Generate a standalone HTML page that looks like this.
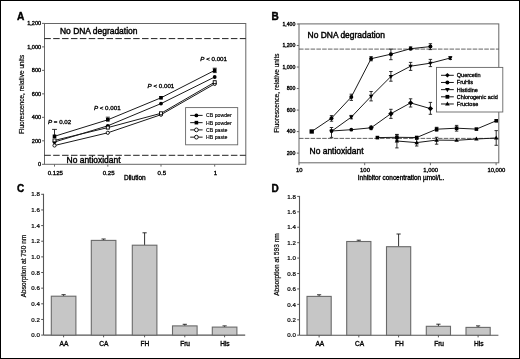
<!DOCTYPE html>
<html><head><meta charset="utf-8"><title>Figure</title>
<style>
html,body{margin:0;padding:0;background:#fff;}
body{width:520px;height:359px;overflow:hidden;position:relative;}
.frame{position:absolute;left:0;top:0;width:518px;height:357px;border:1px solid #000;pointer-events:none;}
</style></head><body>
<svg width="520" height="359" viewBox="0 0 520 359" style="display:block;filter:blur(0.35px)">
<g font-family='"Liberation Sans", Arial, sans-serif' fill="#000" stroke-linecap="butt">
<rect x="44.5" y="23.5" width="201.3" height="140.8" fill="none" stroke="#666" stroke-width="1"/>
<line x1="42.00" y1="164.30" x2="44.50" y2="164.30" stroke="#666" stroke-width="1" />
<text x="41.20" y="166.30" font-size="5.6" text-anchor="end" font-weight="normal" font-style="normal" stroke="#000" stroke-width="0.34" >0</text>
<line x1="42.00" y1="140.82" x2="44.50" y2="140.82" stroke="#666" stroke-width="1" />
<text x="41.20" y="142.82" font-size="5.6" text-anchor="end" font-weight="normal" font-style="normal" stroke="#000" stroke-width="0.34" >200</text>
<line x1="42.00" y1="117.33" x2="44.50" y2="117.33" stroke="#666" stroke-width="1" />
<text x="41.20" y="119.33" font-size="5.6" text-anchor="end" font-weight="normal" font-style="normal" stroke="#000" stroke-width="0.34" >400</text>
<line x1="42.00" y1="93.85" x2="44.50" y2="93.85" stroke="#666" stroke-width="1" />
<text x="41.20" y="95.85" font-size="5.6" text-anchor="end" font-weight="normal" font-style="normal" stroke="#000" stroke-width="0.34" >600</text>
<line x1="42.00" y1="70.37" x2="44.50" y2="70.37" stroke="#666" stroke-width="1" />
<text x="41.20" y="72.37" font-size="5.6" text-anchor="end" font-weight="normal" font-style="normal" stroke="#000" stroke-width="0.34" >800</text>
<line x1="42.00" y1="46.88" x2="44.50" y2="46.88" stroke="#666" stroke-width="1" />
<text x="41.20" y="48.88" font-size="5.6" text-anchor="end" font-weight="normal" font-style="normal" stroke="#000" stroke-width="0.34" >1,000</text>
<line x1="42.00" y1="23.40" x2="44.50" y2="23.40" stroke="#666" stroke-width="1" />
<text x="41.20" y="25.40" font-size="5.6" text-anchor="end" font-weight="normal" font-style="normal" stroke="#000" stroke-width="0.34" >1,200</text>
<line x1="54.50" y1="164.30" x2="54.50" y2="166.60" stroke="#666" stroke-width="1" />
<text x="55.30" y="174.60" font-size="6.1" text-anchor="middle" font-weight="normal" font-style="normal" stroke="#000" stroke-width="0.34" >0.125</text>
<line x1="107.80" y1="164.30" x2="107.80" y2="166.60" stroke="#666" stroke-width="1" />
<text x="108.60" y="174.60" font-size="6.1" text-anchor="middle" font-weight="normal" font-style="normal" stroke="#000" stroke-width="0.34" >0.25</text>
<line x1="161.00" y1="164.30" x2="161.00" y2="166.60" stroke="#666" stroke-width="1" />
<text x="161.80" y="174.60" font-size="6.1" text-anchor="middle" font-weight="normal" font-style="normal" stroke="#000" stroke-width="0.34" >0.5</text>
<line x1="214.70" y1="164.30" x2="214.70" y2="166.60" stroke="#666" stroke-width="1" />
<text x="215.50" y="174.60" font-size="6.1" text-anchor="middle" font-weight="normal" font-style="normal" stroke="#000" stroke-width="0.34" >1</text>
<text x="134.80" y="180.20" font-size="6.5" text-anchor="middle" font-weight="normal" font-style="normal" stroke="#000" stroke-width="0.34" >Dilution</text>
<text transform="translate(23.7,94.4) rotate(-90)" font-size="6.5" stroke="#000" stroke-width="0.2" text-anchor="middle">Fluorescence, relative units</text>
<line x1="44.30" y1="38.60" x2="245.80" y2="38.60" stroke="#222" stroke-width="1" stroke-dasharray="6.5 2.386"/>
<line x1="44.30" y1="155.30" x2="245.80" y2="155.30" stroke="#222" stroke-width="1" stroke-dasharray="6.5 2.386"/>
<text x="60.00" y="33.80" font-size="8.45" text-anchor="start" font-weight="normal" font-style="normal"  stroke="#000" stroke-width="0.42">No DNA degradation</text>
<text x="66.60" y="162.90" font-size="8.45" text-anchor="start" font-weight="normal" font-style="normal"  stroke="#000" stroke-width="0.42">No antioxidant</text>
<text x="48.00" y="124.00" font-size="6.2" stroke="#000" stroke-width="0.34"><tspan font-style="italic">P</tspan> = 0.02</text>
<text x="93.90" y="110.10" font-size="6.2" stroke="#000" stroke-width="0.34"><tspan font-style="italic">P</tspan> &lt; 0.001</text>
<text x="147.60" y="87.50" font-size="6.2" stroke="#000" stroke-width="0.34"><tspan font-style="italic">P</tspan> &lt; 0.001</text>
<text x="200.30" y="60.80" font-size="6.2" stroke="#000" stroke-width="0.34"><tspan font-style="italic">P</tspan> &lt; 0.001</text>
<line x1="54.50" y1="136.30" x2="54.50" y2="129.40" stroke="#1a1a1a" stroke-width="0.9" />
<line x1="52.10" y1="129.40" x2="56.90" y2="129.40" stroke="#1a1a1a" stroke-width="0.9" />
<line x1="107.80" y1="119.80" x2="107.80" y2="117.20" stroke="#1a1a1a" stroke-width="0.9" />
<line x1="105.80" y1="117.20" x2="109.80" y2="117.20" stroke="#1a1a1a" stroke-width="0.9" />
<line x1="161.00" y1="97.80" x2="161.00" y2="96.60" stroke="#1a1a1a" stroke-width="0.9" />
<line x1="159.40" y1="96.60" x2="162.60" y2="96.60" stroke="#1a1a1a" stroke-width="0.9" />
<line x1="214.70" y1="68.20" x2="214.70" y2="72.60" stroke="#1a1a1a" stroke-width="0.9" />
<line x1="212.70" y1="68.20" x2="216.70" y2="68.20" stroke="#1a1a1a" stroke-width="0.9" />
<line x1="212.70" y1="72.60" x2="216.70" y2="72.60" stroke="#1a1a1a" stroke-width="0.9" />
<polyline points="54.50,145.50 107.80,132.80 161.00,114.70 214.70,83.90" fill="none" stroke="#1a1a1a" stroke-width="1.0" stroke-linejoin="round"/>
<polyline points="54.50,140.40 107.80,127.60 161.00,113.30 214.70,82.20" fill="none" stroke="#1a1a1a" stroke-width="1.0" stroke-linejoin="round"/>
<polyline points="54.50,142.00 107.80,125.80 161.00,103.60 214.70,77.00" fill="none" stroke="#1a1a1a" stroke-width="1.0" stroke-linejoin="round"/>
<polyline points="54.50,136.30 107.80,119.80 161.00,97.80 214.70,70.40" fill="none" stroke="#1a1a1a" stroke-width="1.0" stroke-linejoin="round"/>
<circle cx="54.50" cy="142.00" r="1.90" fill="#000"/>
<circle cx="107.80" cy="125.80" r="1.90" fill="#000"/>
<circle cx="161.00" cy="103.60" r="1.90" fill="#000"/>
<circle cx="214.70" cy="77.00" r="1.90" fill="#000"/>
<rect x="52.70" y="134.50" width="3.60" height="3.60" fill="#000"/>
<rect x="106.00" y="118.00" width="3.60" height="3.60" fill="#000"/>
<rect x="159.20" y="96.00" width="3.60" height="3.60" fill="#000"/>
<rect x="212.90" y="68.60" width="3.60" height="3.60" fill="#000"/>
<circle cx="54.50" cy="145.50" r="1.60" fill="#fff" stroke="#000" stroke-width="0.9"/>
<circle cx="107.80" cy="132.80" r="1.60" fill="#fff" stroke="#000" stroke-width="0.9"/>
<circle cx="161.00" cy="114.70" r="1.60" fill="#fff" stroke="#000" stroke-width="0.9"/>
<circle cx="214.70" cy="83.90" r="1.60" fill="#fff" stroke="#000" stroke-width="0.9"/>
<rect x="53.00" y="138.90" width="3.00" height="3.00" fill="#fff" stroke="#000" stroke-width="0.9"/>
<rect x="106.30" y="126.10" width="3.00" height="3.00" fill="#fff" stroke="#000" stroke-width="0.9"/>
<rect x="159.50" y="111.80" width="3.00" height="3.00" fill="#fff" stroke="#000" stroke-width="0.9"/>
<rect x="213.20" y="80.70" width="3.00" height="3.00" fill="#fff" stroke="#000" stroke-width="0.9"/>
<rect x="185.6" y="107.6" width="52.1" height="37.2" fill="#fff" stroke="#666" stroke-width="0.9"/>
<line x1="190.20" y1="115.40" x2="202.60" y2="115.40" stroke="#1a1a1a" stroke-width="1.0" />
<circle cx="196.40" cy="115.40" r="1.90" fill="#000"/>
<text x="206.00" y="117.25" font-size="5.2" text-anchor="start" font-weight="normal" font-style="normal"  stroke="#000" stroke-width="0.15">CB powder</text>
<line x1="190.20" y1="122.65" x2="202.60" y2="122.65" stroke="#1a1a1a" stroke-width="1.0" />
<rect x="194.60" y="120.85" width="3.60" height="3.60" fill="#000"/>
<text x="206.00" y="124.50" font-size="5.2" text-anchor="start" font-weight="normal" font-style="normal"  stroke="#000" stroke-width="0.15">HB powder</text>
<line x1="190.20" y1="129.90" x2="202.60" y2="129.90" stroke="#1a1a1a" stroke-width="1.0" />
<circle cx="196.40" cy="129.90" r="1.89" fill="#fff" stroke="#000" stroke-width="0.9"/>
<text x="206.00" y="131.75" font-size="5.2" text-anchor="start" font-weight="normal" font-style="normal"  stroke="#000" stroke-width="0.15">CB paste</text>
<line x1="190.20" y1="137.15" x2="202.60" y2="137.15" stroke="#1a1a1a" stroke-width="1.0" />
<circle cx="196.40" cy="137.15" r="1.89" fill="#fff" stroke="#000" stroke-width="0.9"/>
<text x="206.00" y="139.00" font-size="5.2" text-anchor="start" font-weight="normal" font-style="normal"  stroke="#000" stroke-width="0.15">HB paste</text>
<rect x="299.0" y="23.9" width="199.8" height="138.9" fill="none" stroke="#666" stroke-width="1"/>
<line x1="296.80" y1="153.10" x2="299.00" y2="153.10" stroke="#666" stroke-width="1" />
<text x="295.40" y="155.00" font-size="5.2" text-anchor="end" font-weight="normal" font-style="normal" stroke="#000" stroke-width="0.34" >200</text>
<line x1="296.80" y1="131.58" x2="299.00" y2="131.58" stroke="#666" stroke-width="1" />
<text x="295.40" y="133.48" font-size="5.2" text-anchor="end" font-weight="normal" font-style="normal" stroke="#000" stroke-width="0.34" >400</text>
<line x1="296.80" y1="110.07" x2="299.00" y2="110.07" stroke="#666" stroke-width="1" />
<text x="295.40" y="111.97" font-size="5.2" text-anchor="end" font-weight="normal" font-style="normal" stroke="#000" stroke-width="0.34" >600</text>
<line x1="296.80" y1="88.55" x2="299.00" y2="88.55" stroke="#666" stroke-width="1" />
<text x="295.40" y="90.45" font-size="5.2" text-anchor="end" font-weight="normal" font-style="normal" stroke="#000" stroke-width="0.34" >800</text>
<line x1="296.80" y1="67.03" x2="299.00" y2="67.03" stroke="#666" stroke-width="1" />
<text x="295.40" y="68.93" font-size="5.2" text-anchor="end" font-weight="normal" font-style="normal" stroke="#000" stroke-width="0.34" >1,000</text>
<line x1="296.80" y1="45.52" x2="299.00" y2="45.52" stroke="#666" stroke-width="1" />
<text x="295.40" y="47.42" font-size="5.2" text-anchor="end" font-weight="normal" font-style="normal" stroke="#000" stroke-width="0.34" >1,200</text>
<line x1="296.80" y1="24.00" x2="299.00" y2="24.00" stroke="#666" stroke-width="1" />
<text x="295.40" y="25.90" font-size="5.2" text-anchor="end" font-weight="normal" font-style="normal" stroke="#000" stroke-width="0.34" >1,400</text>
<line x1="299.00" y1="162.80" x2="299.00" y2="165.20" stroke="#666" stroke-width="1" />
<text x="299.30" y="171.90" font-size="5.9" text-anchor="middle" font-weight="normal" font-style="normal" stroke="#000" stroke-width="0.34" >10</text>
<line x1="364.70" y1="162.80" x2="364.70" y2="165.20" stroke="#666" stroke-width="1" />
<text x="365.00" y="171.90" font-size="5.9" text-anchor="middle" font-weight="normal" font-style="normal" stroke="#000" stroke-width="0.34" >100</text>
<line x1="430.40" y1="162.80" x2="430.40" y2="165.20" stroke="#666" stroke-width="1" />
<text x="430.70" y="171.90" font-size="5.9" text-anchor="middle" font-weight="normal" font-style="normal" stroke="#000" stroke-width="0.34" >1,000</text>
<line x1="496.10" y1="162.80" x2="496.10" y2="165.20" stroke="#666" stroke-width="1" />
<text x="496.40" y="171.90" font-size="5.9" text-anchor="middle" font-weight="normal" font-style="normal" stroke="#000" stroke-width="0.34" >10,000</text>
<text x="401.00" y="179.90" font-size="6.45" text-anchor="middle" font-weight="normal" font-style="normal" stroke="#000" stroke-width="0.34" >Inhibitor concentration µmol/L.</text>
<text transform="translate(278.8,93.1) rotate(-90)" font-size="6.5" stroke="#000" stroke-width="0.2" text-anchor="middle">Fluorescence, relative units</text>
<line x1="299.00" y1="49.10" x2="498.80" y2="49.10" stroke="#505050" stroke-width="0.9" stroke-dasharray="4.55 1.24"/>
<line x1="299.00" y1="138.40" x2="498.80" y2="138.40" stroke="#505050" stroke-width="0.9" stroke-dasharray="4.55 1.24"/>
<text x="307.60" y="37.90" font-size="8.45" text-anchor="start" font-weight="normal" font-style="normal"  stroke="#000" stroke-width="0.42">No DNA degradation</text>
<text x="309.60" y="153.60" font-size="8.45" text-anchor="start" font-weight="normal" font-style="normal"  stroke="#000" stroke-width="0.42">No antioxidant</text>
<line x1="331.50" y1="115.60" x2="331.50" y2="121.20" stroke="#1a1a1a" stroke-width="0.9" />
<line x1="329.80" y1="115.60" x2="333.20" y2="115.60" stroke="#1a1a1a" stroke-width="0.9" />
<line x1="329.80" y1="121.20" x2="333.20" y2="121.20" stroke="#1a1a1a" stroke-width="0.9" />
<line x1="351.30" y1="94.20" x2="351.30" y2="100.40" stroke="#1a1a1a" stroke-width="0.9" />
<line x1="349.60" y1="94.20" x2="353.00" y2="94.20" stroke="#1a1a1a" stroke-width="0.9" />
<line x1="349.60" y1="100.40" x2="353.00" y2="100.40" stroke="#1a1a1a" stroke-width="0.9" />
<line x1="371.10" y1="56.60" x2="371.10" y2="60.80" stroke="#1a1a1a" stroke-width="0.9" />
<line x1="369.40" y1="56.60" x2="372.80" y2="56.60" stroke="#1a1a1a" stroke-width="0.9" />
<line x1="369.40" y1="60.80" x2="372.80" y2="60.80" stroke="#1a1a1a" stroke-width="0.9" />
<line x1="390.90" y1="49.10" x2="390.90" y2="59.70" stroke="#1a1a1a" stroke-width="0.9" />
<line x1="389.20" y1="49.10" x2="392.60" y2="49.10" stroke="#1a1a1a" stroke-width="0.9" />
<line x1="389.20" y1="59.70" x2="392.60" y2="59.70" stroke="#1a1a1a" stroke-width="0.9" />
<line x1="410.60" y1="46.80" x2="410.60" y2="49.60" stroke="#1a1a1a" stroke-width="0.9" />
<line x1="408.90" y1="46.80" x2="412.30" y2="46.80" stroke="#1a1a1a" stroke-width="0.9" />
<line x1="408.90" y1="49.60" x2="412.30" y2="49.60" stroke="#1a1a1a" stroke-width="0.9" />
<line x1="430.40" y1="43.70" x2="430.40" y2="49.60" stroke="#1a1a1a" stroke-width="0.9" />
<line x1="428.70" y1="43.70" x2="432.10" y2="43.70" stroke="#1a1a1a" stroke-width="0.9" />
<line x1="428.70" y1="49.60" x2="432.10" y2="49.60" stroke="#1a1a1a" stroke-width="0.9" />
<polyline points="311.70,131.50 331.50,118.20 351.30,97.00 371.10,58.70 390.90,54.20 410.60,48.70 430.40,46.60" fill="none" stroke="#1a1a1a" stroke-width="1.0" stroke-linejoin="round"/>
<line x1="331.50" y1="127.50" x2="331.50" y2="137.40" stroke="#1a1a1a" stroke-width="0.9" />
<line x1="329.80" y1="127.50" x2="333.20" y2="127.50" stroke="#1a1a1a" stroke-width="0.9" />
<line x1="329.80" y1="137.40" x2="333.20" y2="137.40" stroke="#1a1a1a" stroke-width="0.9" />
<line x1="351.30" y1="115.40" x2="351.30" y2="118.80" stroke="#1a1a1a" stroke-width="0.9" />
<line x1="349.60" y1="115.40" x2="353.00" y2="115.40" stroke="#1a1a1a" stroke-width="0.9" />
<line x1="349.60" y1="118.80" x2="353.00" y2="118.80" stroke="#1a1a1a" stroke-width="0.9" />
<line x1="371.10" y1="91.50" x2="371.10" y2="100.90" stroke="#1a1a1a" stroke-width="0.9" />
<line x1="369.40" y1="91.50" x2="372.80" y2="91.50" stroke="#1a1a1a" stroke-width="0.9" />
<line x1="369.40" y1="100.90" x2="372.80" y2="100.90" stroke="#1a1a1a" stroke-width="0.9" />
<line x1="390.90" y1="71.50" x2="390.90" y2="81.20" stroke="#1a1a1a" stroke-width="0.9" />
<line x1="389.20" y1="71.50" x2="392.60" y2="71.50" stroke="#1a1a1a" stroke-width="0.9" />
<line x1="389.20" y1="81.20" x2="392.60" y2="81.20" stroke="#1a1a1a" stroke-width="0.9" />
<line x1="410.60" y1="62.40" x2="410.60" y2="70.40" stroke="#1a1a1a" stroke-width="0.9" />
<line x1="408.90" y1="62.40" x2="412.30" y2="62.40" stroke="#1a1a1a" stroke-width="0.9" />
<line x1="408.90" y1="70.40" x2="412.30" y2="70.40" stroke="#1a1a1a" stroke-width="0.9" />
<line x1="430.40" y1="59.40" x2="430.40" y2="66.60" stroke="#1a1a1a" stroke-width="0.9" />
<line x1="428.70" y1="59.40" x2="432.10" y2="59.40" stroke="#1a1a1a" stroke-width="0.9" />
<line x1="428.70" y1="66.60" x2="432.10" y2="66.60" stroke="#1a1a1a" stroke-width="0.9" />
<line x1="450.30" y1="56.60" x2="450.30" y2="59.50" stroke="#1a1a1a" stroke-width="0.9" />
<line x1="448.60" y1="56.60" x2="452.00" y2="56.60" stroke="#1a1a1a" stroke-width="0.9" />
<line x1="448.60" y1="59.50" x2="452.00" y2="59.50" stroke="#1a1a1a" stroke-width="0.9" />
<polyline points="331.50,131.30 351.30,117.10 371.10,96.30 390.90,76.50 410.60,66.20 430.40,63.20 450.30,58.00" fill="none" stroke="#1a1a1a" stroke-width="1.0" stroke-linejoin="round"/>
<line x1="371.10" y1="126.20" x2="371.10" y2="129.60" stroke="#1a1a1a" stroke-width="0.9" />
<line x1="369.40" y1="126.20" x2="372.80" y2="126.20" stroke="#1a1a1a" stroke-width="0.9" />
<line x1="369.40" y1="129.60" x2="372.80" y2="129.60" stroke="#1a1a1a" stroke-width="0.9" />
<line x1="390.90" y1="109.30" x2="390.90" y2="118.40" stroke="#1a1a1a" stroke-width="0.9" />
<line x1="389.20" y1="109.30" x2="392.60" y2="109.30" stroke="#1a1a1a" stroke-width="0.9" />
<line x1="389.20" y1="118.40" x2="392.60" y2="118.40" stroke="#1a1a1a" stroke-width="0.9" />
<line x1="410.60" y1="98.80" x2="410.60" y2="107.00" stroke="#1a1a1a" stroke-width="0.9" />
<line x1="408.90" y1="98.80" x2="412.30" y2="98.80" stroke="#1a1a1a" stroke-width="0.9" />
<line x1="408.90" y1="107.00" x2="412.30" y2="107.00" stroke="#1a1a1a" stroke-width="0.9" />
<line x1="430.40" y1="102.40" x2="430.40" y2="114.30" stroke="#1a1a1a" stroke-width="0.9" />
<line x1="428.70" y1="102.40" x2="432.10" y2="102.40" stroke="#1a1a1a" stroke-width="0.9" />
<line x1="428.70" y1="114.30" x2="432.10" y2="114.30" stroke="#1a1a1a" stroke-width="0.9" />
<polyline points="331.50,131.00 351.30,129.70 371.10,127.80 390.90,113.70 410.60,102.90 430.40,108.60" fill="none" stroke="#1a1a1a" stroke-width="1.0" stroke-linejoin="round"/>
<line x1="396.90" y1="134.40" x2="396.90" y2="140.20" stroke="#1a1a1a" stroke-width="0.9" />
<line x1="395.20" y1="134.40" x2="398.60" y2="134.40" stroke="#1a1a1a" stroke-width="0.9" />
<line x1="395.20" y1="140.20" x2="398.60" y2="140.20" stroke="#1a1a1a" stroke-width="0.9" />
<line x1="436.60" y1="127.30" x2="436.60" y2="131.20" stroke="#1a1a1a" stroke-width="0.9" />
<line x1="434.90" y1="127.30" x2="438.30" y2="127.30" stroke="#1a1a1a" stroke-width="0.9" />
<line x1="434.90" y1="131.20" x2="438.30" y2="131.20" stroke="#1a1a1a" stroke-width="0.9" />
<line x1="456.60" y1="125.40" x2="456.60" y2="131.10" stroke="#1a1a1a" stroke-width="0.9" />
<line x1="454.90" y1="125.40" x2="458.30" y2="125.40" stroke="#1a1a1a" stroke-width="0.9" />
<line x1="454.90" y1="131.10" x2="458.30" y2="131.10" stroke="#1a1a1a" stroke-width="0.9" />
<polyline points="377.40,137.60 396.90,137.30 416.70,137.50 436.60,129.20 456.60,128.20 476.40,129.10 496.20,120.80" fill="none" stroke="#1a1a1a" stroke-width="1.0" stroke-linejoin="round"/>
<line x1="396.90" y1="134.60" x2="396.90" y2="147.90" stroke="#1a1a1a" stroke-width="0.9" />
<line x1="395.20" y1="134.60" x2="398.60" y2="134.60" stroke="#1a1a1a" stroke-width="0.9" />
<line x1="395.20" y1="147.90" x2="398.60" y2="147.90" stroke="#1a1a1a" stroke-width="0.9" />
<line x1="416.70" y1="139.50" x2="416.70" y2="146.00" stroke="#1a1a1a" stroke-width="0.9" />
<line x1="415.00" y1="139.50" x2="418.40" y2="139.50" stroke="#1a1a1a" stroke-width="0.9" />
<line x1="415.00" y1="146.00" x2="418.40" y2="146.00" stroke="#1a1a1a" stroke-width="0.9" />
<line x1="436.60" y1="137.30" x2="436.60" y2="144.20" stroke="#1a1a1a" stroke-width="0.9" />
<line x1="434.90" y1="137.30" x2="438.30" y2="137.30" stroke="#1a1a1a" stroke-width="0.9" />
<line x1="434.90" y1="144.20" x2="438.30" y2="144.20" stroke="#1a1a1a" stroke-width="0.9" />
<line x1="496.20" y1="130.60" x2="496.20" y2="145.30" stroke="#1a1a1a" stroke-width="0.9" />
<line x1="494.50" y1="130.60" x2="497.90" y2="130.60" stroke="#1a1a1a" stroke-width="0.9" />
<line x1="494.50" y1="145.30" x2="497.90" y2="145.30" stroke="#1a1a1a" stroke-width="0.9" />
<polyline points="396.90,141.00 416.70,142.60 436.60,140.10 456.60,140.30 476.40,139.00 496.20,138.00" fill="none" stroke="#1a1a1a" stroke-width="1.0" stroke-linejoin="round"/>
<rect x="309.54" y="129.34" width="4.32" height="4.32" fill="#000"/>
<circle cx="331.50" cy="118.20" r="1.99" fill="#000"/>
<circle cx="351.30" cy="97.00" r="1.99" fill="#000"/>
<circle cx="371.10" cy="58.70" r="1.99" fill="#000"/>
<circle cx="390.90" cy="54.20" r="1.99" fill="#000"/>
<circle cx="410.60" cy="48.70" r="1.99" fill="#000"/>
<circle cx="430.40" cy="46.60" r="1.99" fill="#000"/>
<polygon points="329.30,129.76 333.70,129.76 331.50,133.72" fill="#000"/>
<polygon points="349.10,115.56 353.50,115.56 351.30,119.52" fill="#000"/>
<polygon points="368.90,94.76 373.30,94.76 371.10,98.72" fill="#000"/>
<polygon points="388.70,74.96 393.10,74.96 390.90,78.92" fill="#000"/>
<polygon points="408.40,64.66 412.80,64.66 410.60,68.62" fill="#000"/>
<polygon points="428.20,61.66 432.60,61.66 430.40,65.62" fill="#000"/>
<polygon points="448.10,56.46 452.50,56.46 450.30,60.42" fill="#000"/>
<circle cx="331.50" cy="131.00" r="1.90" fill="#000"/>
<circle cx="351.30" cy="129.70" r="1.90" fill="#000"/>
<polygon points="371.10,125.10 373.80,127.80 371.10,130.50 368.40,127.80" fill="#000"/>
<polygon points="390.90,111.00 393.60,113.70 390.90,116.40 388.20,113.70" fill="#000"/>
<polygon points="410.60,100.20 413.30,102.90 410.60,105.60 407.90,102.90" fill="#000"/>
<polygon points="430.40,105.90 433.10,108.60 430.40,111.30 427.70,108.60" fill="#000"/>
<rect x="375.60" y="135.80" width="3.60" height="3.60" fill="#000"/>
<rect x="395.10" y="135.50" width="3.60" height="3.60" fill="#000"/>
<rect x="414.90" y="135.70" width="3.60" height="3.60" fill="#000"/>
<rect x="434.80" y="127.40" width="3.60" height="3.60" fill="#000"/>
<rect x="454.80" y="126.40" width="3.60" height="3.60" fill="#000"/>
<rect x="474.60" y="127.30" width="3.60" height="3.60" fill="#000"/>
<rect x="494.40" y="119.00" width="3.60" height="3.60" fill="#000"/>
<polygon points="394.70,142.54 399.10,142.54 396.90,138.58" fill="#000"/>
<polygon points="414.50,144.14 418.90,144.14 416.70,140.18" fill="#000"/>
<polygon points="434.40,141.64 438.80,141.64 436.60,137.68" fill="#000"/>
<polygon points="454.40,141.84 458.80,141.84 456.60,137.88" fill="#000"/>
<polygon points="474.20,140.54 478.60,140.54 476.40,136.58" fill="#000"/>
<polygon points="494.00,139.54 498.40,139.54 496.20,135.58" fill="#000"/>
<rect x="436.5" y="67.4" width="66.3" height="44.6" fill="#fff" stroke="#666" stroke-width="0.9"/>
<line x1="441.00" y1="75.30" x2="453.80" y2="75.30" stroke="#1a1a1a" stroke-width="1.0" />
<polygon points="447.40,73.00 449.69,75.30 447.40,77.59 445.10,75.30" fill="#000"/>
<text x="456.80" y="77.25" font-size="5.5" text-anchor="start" font-weight="normal" font-style="normal"  stroke="#000" stroke-width="0.3">Quercetin</text>
<line x1="441.00" y1="82.47" x2="453.80" y2="82.47" stroke="#1a1a1a" stroke-width="1.0" />
<circle cx="447.40" cy="82.47" r="1.99" fill="#000"/>
<text x="456.80" y="84.42" font-size="5.5" text-anchor="start" font-weight="normal" font-style="normal"  stroke="#000" stroke-width="0.3">FruHis</text>
<line x1="441.00" y1="89.64" x2="453.80" y2="89.64" stroke="#1a1a1a" stroke-width="1.0" />
<polygon points="445.09,88.02 449.71,88.02 447.40,92.18" fill="#000"/>
<text x="456.80" y="91.59" font-size="5.5" text-anchor="start" font-weight="normal" font-style="normal"  stroke="#000" stroke-width="0.3">Histidine</text>
<line x1="441.00" y1="96.81" x2="453.80" y2="96.81" stroke="#1a1a1a" stroke-width="1.0" />
<rect x="445.51" y="94.92" width="3.78" height="3.78" fill="#000"/>
<text x="456.80" y="98.76" font-size="5.5" text-anchor="start" font-weight="normal" font-style="normal"  stroke="#000" stroke-width="0.3">Chlorogenic acid</text>
<line x1="441.00" y1="103.98" x2="453.80" y2="103.98" stroke="#1a1a1a" stroke-width="1.0" />
<polygon points="445.09,105.60 449.71,105.60 447.40,101.44" fill="#000"/>
<text x="456.80" y="105.93" font-size="5.5" text-anchor="start" font-weight="normal" font-style="normal"  stroke="#000" stroke-width="0.3">Fructose</text>
<line x1="43.50" y1="193.80" x2="43.50" y2="335.10" stroke="#555" stroke-width="1.1" />
<line x1="43.50" y1="335.10" x2="245.20" y2="335.10" stroke="#555" stroke-width="1.1" />
<line x1="41.20" y1="335.10" x2="43.50" y2="335.10" stroke="#555" stroke-width="1" />
<text x="39.80" y="337.25" font-size="6.1" text-anchor="end" font-weight="normal" font-style="normal"  stroke="#000" stroke-width="0.22">0.0</text>
<line x1="41.20" y1="319.46" x2="43.50" y2="319.46" stroke="#555" stroke-width="1" />
<text x="39.80" y="321.61" font-size="6.1" text-anchor="end" font-weight="normal" font-style="normal"  stroke="#000" stroke-width="0.22">0.2</text>
<line x1="41.20" y1="303.81" x2="43.50" y2="303.81" stroke="#555" stroke-width="1" />
<text x="39.80" y="305.96" font-size="6.1" text-anchor="end" font-weight="normal" font-style="normal"  stroke="#000" stroke-width="0.22">0.4</text>
<line x1="41.20" y1="288.17" x2="43.50" y2="288.17" stroke="#555" stroke-width="1" />
<text x="39.80" y="290.32" font-size="6.1" text-anchor="end" font-weight="normal" font-style="normal"  stroke="#000" stroke-width="0.22">0.6</text>
<line x1="41.20" y1="272.52" x2="43.50" y2="272.52" stroke="#555" stroke-width="1" />
<text x="39.80" y="274.67" font-size="6.1" text-anchor="end" font-weight="normal" font-style="normal"  stroke="#000" stroke-width="0.22">0.8</text>
<line x1="41.20" y1="256.88" x2="43.50" y2="256.88" stroke="#555" stroke-width="1" />
<text x="39.80" y="259.03" font-size="6.1" text-anchor="end" font-weight="normal" font-style="normal"  stroke="#000" stroke-width="0.22">1.0</text>
<line x1="41.20" y1="241.23" x2="43.50" y2="241.23" stroke="#555" stroke-width="1" />
<text x="39.80" y="243.38" font-size="6.1" text-anchor="end" font-weight="normal" font-style="normal"  stroke="#000" stroke-width="0.22">1.2</text>
<line x1="41.20" y1="225.59" x2="43.50" y2="225.59" stroke="#555" stroke-width="1" />
<text x="39.80" y="227.74" font-size="6.1" text-anchor="end" font-weight="normal" font-style="normal"  stroke="#000" stroke-width="0.22">1.4</text>
<line x1="41.20" y1="209.94" x2="43.50" y2="209.94" stroke="#555" stroke-width="1" />
<text x="39.80" y="212.09" font-size="6.1" text-anchor="end" font-weight="normal" font-style="normal"  stroke="#000" stroke-width="0.22">1.6</text>
<line x1="41.20" y1="194.30" x2="43.50" y2="194.30" stroke="#555" stroke-width="1" />
<text x="39.80" y="196.45" font-size="6.1" text-anchor="end" font-weight="normal" font-style="normal"  stroke="#000" stroke-width="0.22">1.8</text>
<text transform="translate(26.3,266.0) rotate(-90)" font-size="6.58" stroke="#000" stroke-width="0.2" text-anchor="middle">Absorption at 750 nm</text>
<line x1="63.60" y1="296.20" x2="63.60" y2="294.70" stroke="#1a1a1a" stroke-width="0.9" />
<line x1="61.50" y1="294.70" x2="65.70" y2="294.70" stroke="#1a1a1a" stroke-width="0.9" />
<rect x="51.30" y="296.20" width="24.6" height="38.90" fill="#c6c6c6" stroke="#6a6a6a" stroke-width="1.1"/>
<line x1="63.60" y1="335.10" x2="63.60" y2="337.30" stroke="#555" stroke-width="1" />
<text x="63.90" y="346.20" font-size="6.6" text-anchor="middle" font-weight="normal" font-style="normal" stroke="#000" stroke-width="0.34" >AA</text>
<line x1="103.60" y1="240.40" x2="103.60" y2="239.00" stroke="#1a1a1a" stroke-width="0.9" />
<line x1="101.50" y1="239.00" x2="105.70" y2="239.00" stroke="#1a1a1a" stroke-width="0.9" />
<rect x="91.30" y="240.40" width="24.6" height="94.70" fill="#c6c6c6" stroke="#6a6a6a" stroke-width="1.1"/>
<line x1="103.60" y1="335.10" x2="103.60" y2="337.30" stroke="#555" stroke-width="1" />
<text x="103.90" y="346.20" font-size="6.6" text-anchor="middle" font-weight="normal" font-style="normal" stroke="#000" stroke-width="0.34" >CA</text>
<line x1="144.60" y1="245.20" x2="144.60" y2="232.80" stroke="#1a1a1a" stroke-width="0.9" />
<line x1="142.50" y1="232.80" x2="146.70" y2="232.80" stroke="#1a1a1a" stroke-width="0.9" />
<rect x="132.30" y="245.20" width="24.6" height="89.90" fill="#c6c6c6" stroke="#6a6a6a" stroke-width="1.1"/>
<line x1="144.60" y1="335.10" x2="144.60" y2="337.30" stroke="#555" stroke-width="1" />
<text x="144.90" y="346.20" font-size="6.6" text-anchor="middle" font-weight="normal" font-style="normal" stroke="#000" stroke-width="0.34" >FH</text>
<line x1="184.80" y1="325.90" x2="184.80" y2="324.30" stroke="#1a1a1a" stroke-width="0.9" />
<line x1="182.70" y1="324.30" x2="186.90" y2="324.30" stroke="#1a1a1a" stroke-width="0.9" />
<rect x="172.50" y="325.90" width="24.6" height="9.20" fill="#c6c6c6" stroke="#6a6a6a" stroke-width="1.1"/>
<line x1="184.80" y1="335.10" x2="184.80" y2="337.30" stroke="#555" stroke-width="1" />
<text x="185.10" y="346.20" font-size="6.6" text-anchor="middle" font-weight="normal" font-style="normal" stroke="#000" stroke-width="0.34" >Fru</text>
<line x1="224.60" y1="327.10" x2="224.60" y2="325.90" stroke="#1a1a1a" stroke-width="0.9" />
<line x1="222.50" y1="325.90" x2="226.70" y2="325.90" stroke="#1a1a1a" stroke-width="0.9" />
<rect x="212.30" y="327.10" width="24.6" height="8.00" fill="#c6c6c6" stroke="#6a6a6a" stroke-width="1.1"/>
<line x1="224.60" y1="335.10" x2="224.60" y2="337.30" stroke="#555" stroke-width="1" />
<text x="224.90" y="346.20" font-size="6.6" text-anchor="middle" font-weight="normal" font-style="normal" stroke="#000" stroke-width="0.34" >His</text>
<line x1="299.50" y1="195.90" x2="299.50" y2="335.20" stroke="#555" stroke-width="1.1" />
<line x1="299.50" y1="335.20" x2="498.40" y2="335.20" stroke="#555" stroke-width="1.1" />
<line x1="297.20" y1="335.20" x2="299.50" y2="335.20" stroke="#555" stroke-width="1" />
<text x="295.80" y="337.35" font-size="6.1" text-anchor="end" font-weight="normal" font-style="normal"  stroke="#000" stroke-width="0.22">0.0</text>
<line x1="297.20" y1="319.78" x2="299.50" y2="319.78" stroke="#555" stroke-width="1" />
<text x="295.80" y="321.93" font-size="6.1" text-anchor="end" font-weight="normal" font-style="normal"  stroke="#000" stroke-width="0.22">0.2</text>
<line x1="297.20" y1="304.36" x2="299.50" y2="304.36" stroke="#555" stroke-width="1" />
<text x="295.80" y="306.51" font-size="6.1" text-anchor="end" font-weight="normal" font-style="normal"  stroke="#000" stroke-width="0.22">0.4</text>
<line x1="297.20" y1="288.93" x2="299.50" y2="288.93" stroke="#555" stroke-width="1" />
<text x="295.80" y="291.08" font-size="6.1" text-anchor="end" font-weight="normal" font-style="normal"  stroke="#000" stroke-width="0.22">0.6</text>
<line x1="297.20" y1="273.51" x2="299.50" y2="273.51" stroke="#555" stroke-width="1" />
<text x="295.80" y="275.66" font-size="6.1" text-anchor="end" font-weight="normal" font-style="normal"  stroke="#000" stroke-width="0.22">0.8</text>
<line x1="297.20" y1="258.09" x2="299.50" y2="258.09" stroke="#555" stroke-width="1" />
<text x="295.80" y="260.24" font-size="6.1" text-anchor="end" font-weight="normal" font-style="normal"  stroke="#000" stroke-width="0.22">1.0</text>
<line x1="297.20" y1="242.67" x2="299.50" y2="242.67" stroke="#555" stroke-width="1" />
<text x="295.80" y="244.82" font-size="6.1" text-anchor="end" font-weight="normal" font-style="normal"  stroke="#000" stroke-width="0.22">1.2</text>
<line x1="297.20" y1="227.24" x2="299.50" y2="227.24" stroke="#555" stroke-width="1" />
<text x="295.80" y="229.39" font-size="6.1" text-anchor="end" font-weight="normal" font-style="normal"  stroke="#000" stroke-width="0.22">1.4</text>
<line x1="297.20" y1="211.82" x2="299.50" y2="211.82" stroke="#555" stroke-width="1" />
<text x="295.80" y="213.97" font-size="6.1" text-anchor="end" font-weight="normal" font-style="normal"  stroke="#000" stroke-width="0.22">1.6</text>
<line x1="297.20" y1="196.40" x2="299.50" y2="196.40" stroke="#555" stroke-width="1" />
<text x="295.80" y="198.55" font-size="6.1" text-anchor="end" font-weight="normal" font-style="normal"  stroke="#000" stroke-width="0.22">1.8</text>
<text transform="translate(279.4,264.5) rotate(-90)" font-size="6.58" stroke="#000" stroke-width="0.2" text-anchor="middle">Absorption at 593 nm</text>
<line x1="319.10" y1="296.40" x2="319.10" y2="294.80" stroke="#1a1a1a" stroke-width="0.9" />
<line x1="317.00" y1="294.80" x2="321.20" y2="294.80" stroke="#1a1a1a" stroke-width="0.9" />
<rect x="307.00" y="296.40" width="24.2" height="38.80" fill="#c6c6c6" stroke="#6a6a6a" stroke-width="1.1"/>
<line x1="319.10" y1="335.20" x2="319.10" y2="337.40" stroke="#555" stroke-width="1" />
<text x="319.80" y="346.20" font-size="6.6" text-anchor="middle" font-weight="normal" font-style="normal" stroke="#000" stroke-width="0.34" >AA</text>
<line x1="358.80" y1="241.50" x2="358.80" y2="240.20" stroke="#1a1a1a" stroke-width="0.9" />
<line x1="356.70" y1="240.20" x2="360.90" y2="240.20" stroke="#1a1a1a" stroke-width="0.9" />
<rect x="346.70" y="241.50" width="24.2" height="93.70" fill="#c6c6c6" stroke="#6a6a6a" stroke-width="1.1"/>
<line x1="358.80" y1="335.20" x2="358.80" y2="337.40" stroke="#555" stroke-width="1" />
<text x="359.50" y="346.20" font-size="6.6" text-anchor="middle" font-weight="normal" font-style="normal" stroke="#000" stroke-width="0.34" >CA</text>
<line x1="398.60" y1="246.70" x2="398.60" y2="234.00" stroke="#1a1a1a" stroke-width="0.9" />
<line x1="396.50" y1="234.00" x2="400.70" y2="234.00" stroke="#1a1a1a" stroke-width="0.9" />
<rect x="386.50" y="246.70" width="24.2" height="88.50" fill="#c6c6c6" stroke="#6a6a6a" stroke-width="1.1"/>
<line x1="398.60" y1="335.20" x2="398.60" y2="337.40" stroke="#555" stroke-width="1" />
<text x="399.30" y="346.20" font-size="6.6" text-anchor="middle" font-weight="normal" font-style="normal" stroke="#000" stroke-width="0.34" >FH</text>
<line x1="438.40" y1="326.30" x2="438.40" y2="324.20" stroke="#1a1a1a" stroke-width="0.9" />
<line x1="436.30" y1="324.20" x2="440.50" y2="324.20" stroke="#1a1a1a" stroke-width="0.9" />
<rect x="426.30" y="326.30" width="24.2" height="8.90" fill="#c6c6c6" stroke="#6a6a6a" stroke-width="1.1"/>
<line x1="438.40" y1="335.20" x2="438.40" y2="337.40" stroke="#555" stroke-width="1" />
<text x="439.10" y="346.20" font-size="6.6" text-anchor="middle" font-weight="normal" font-style="normal" stroke="#000" stroke-width="0.34" >Fru</text>
<line x1="478.10" y1="327.40" x2="478.10" y2="325.90" stroke="#1a1a1a" stroke-width="0.9" />
<line x1="476.00" y1="325.90" x2="480.20" y2="325.90" stroke="#1a1a1a" stroke-width="0.9" />
<rect x="466.00" y="327.40" width="24.2" height="7.80" fill="#c6c6c6" stroke="#6a6a6a" stroke-width="1.1"/>
<line x1="478.10" y1="335.20" x2="478.10" y2="337.40" stroke="#555" stroke-width="1" />
<text x="478.80" y="346.20" font-size="6.6" text-anchor="middle" font-weight="normal" font-style="normal" stroke="#000" stroke-width="0.34" >His</text>
<text x="17.10" y="19.80" font-size="10.2" text-anchor="start" font-weight="bold" font-style="normal"  stroke="#000" stroke-width="0.4" stroke-linejoin="round">A</text>
<text x="271.60" y="19.80" font-size="10.0" text-anchor="start" font-weight="bold" font-style="normal"  stroke="#000" stroke-width="0.4" stroke-linejoin="round">B</text>
<text x="16.90" y="191.90" font-size="10.0" text-anchor="start" font-weight="bold" font-style="normal"  stroke="#000" stroke-width="0.4" stroke-linejoin="round">C</text>
<text x="271.50" y="192.00" font-size="10.0" text-anchor="start" font-weight="bold" font-style="normal"  stroke="#000" stroke-width="0.4" stroke-linejoin="round">D</text>
</g></svg>
<div class="frame"></div>
</body></html>
